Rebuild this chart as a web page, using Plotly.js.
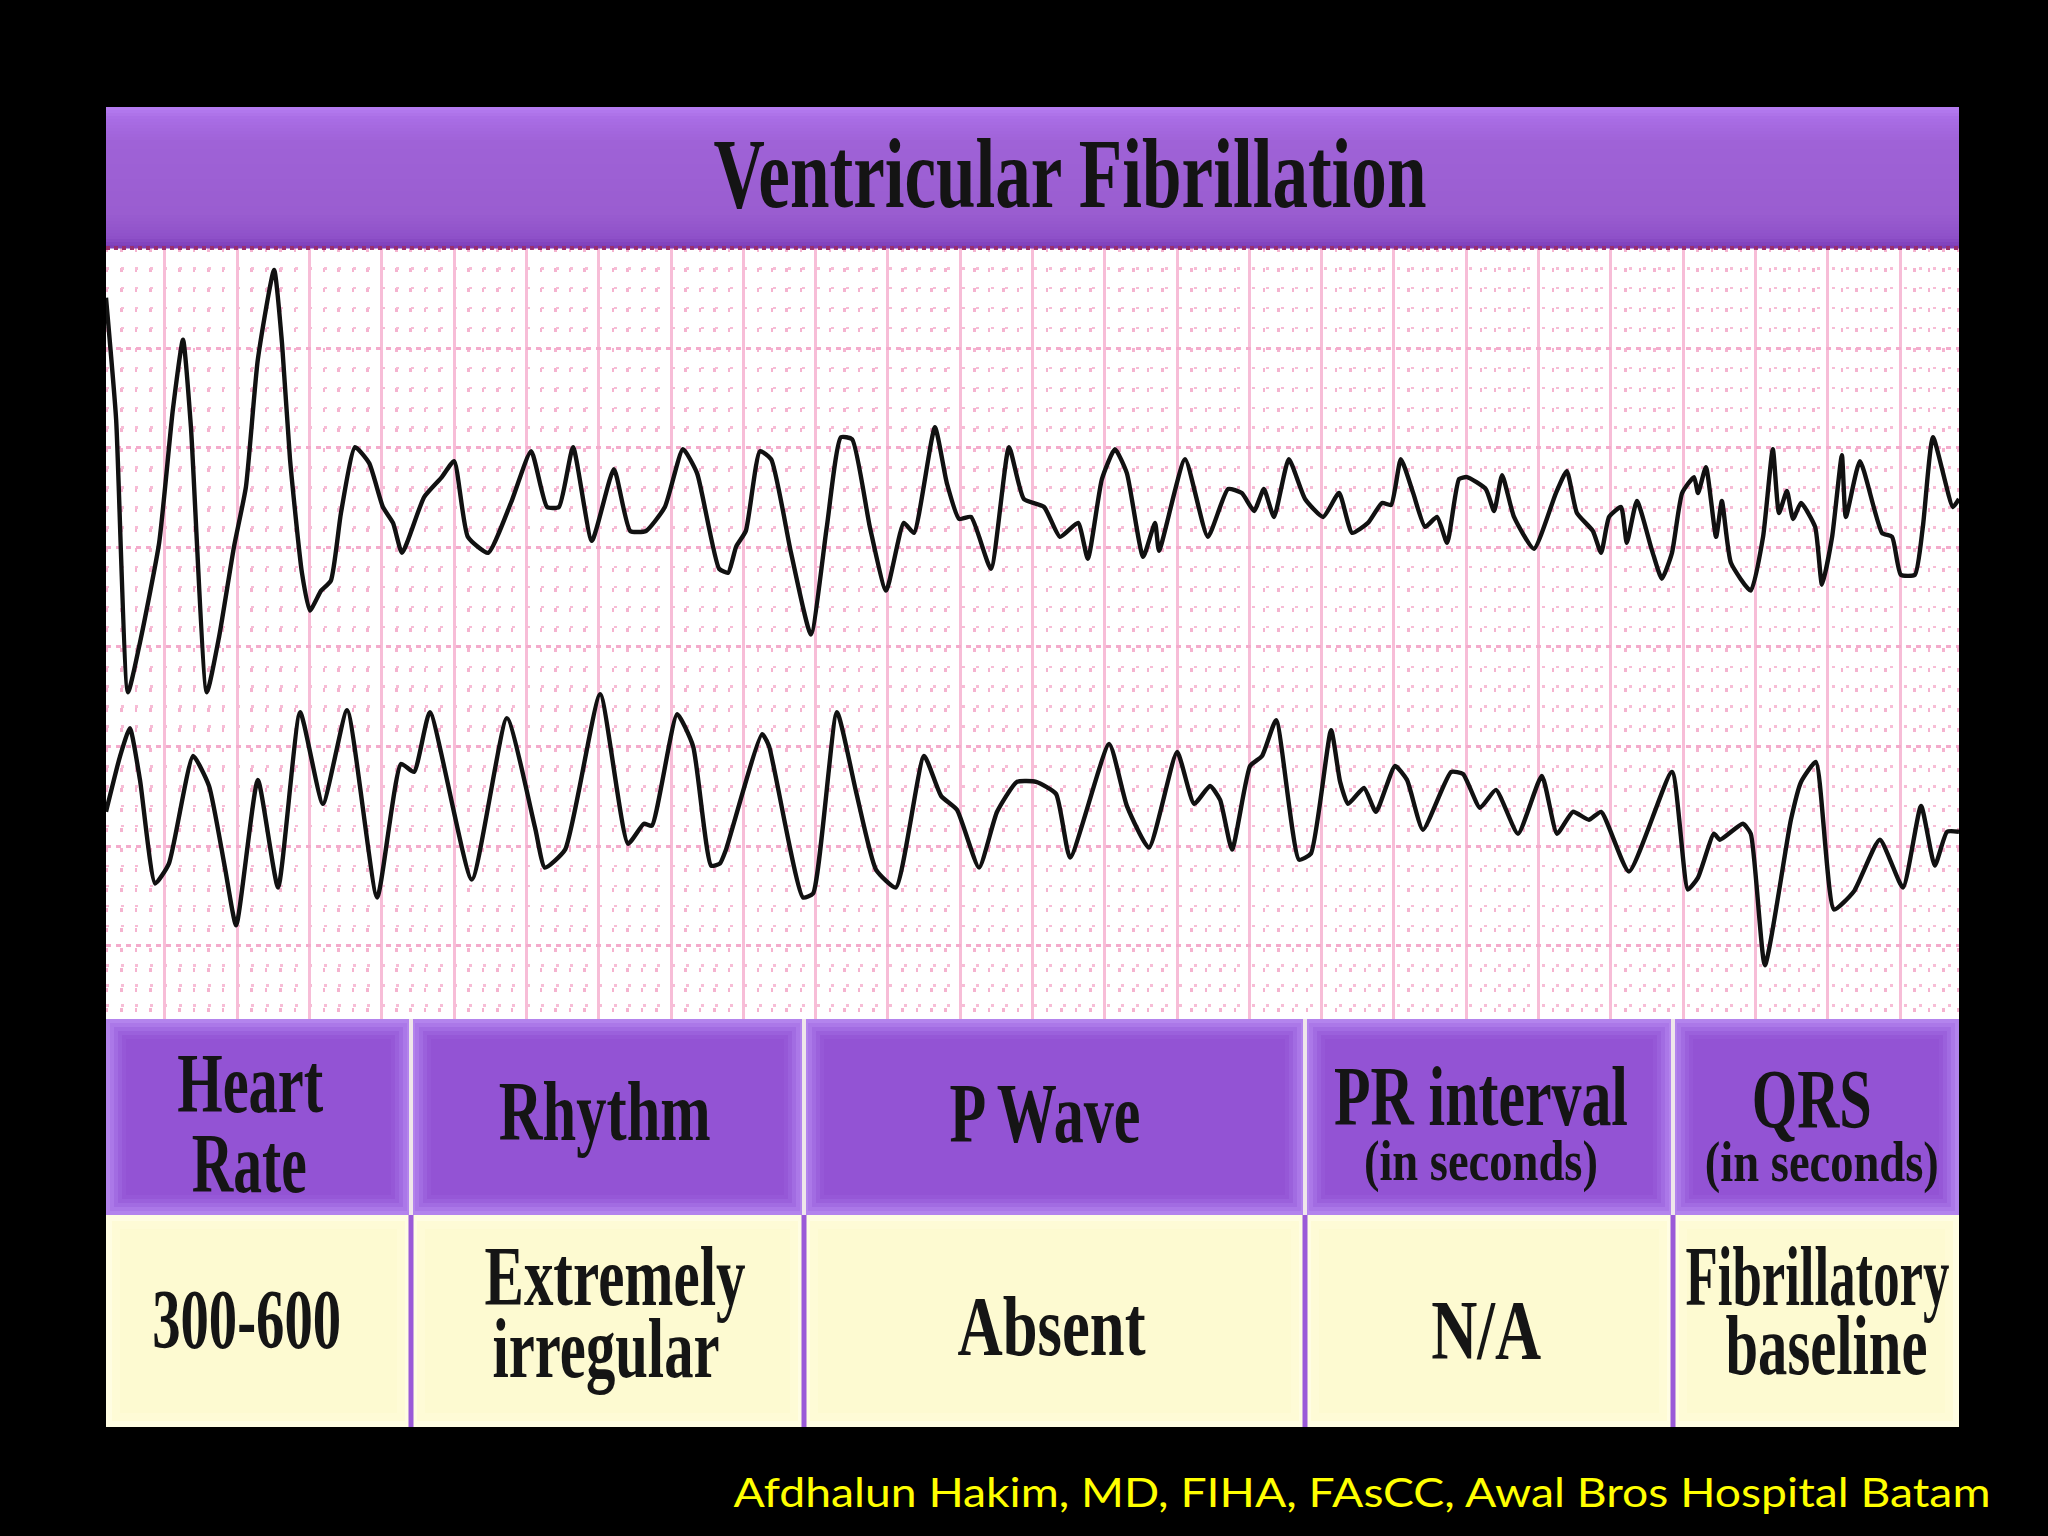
<!DOCTYPE html>
<html>
<head>
<meta charset="utf-8">
<script src="https://cdn.plot.ly/plotly-3.0.1.min.js"></script>
<style>
html,body{margin:0;padding:0;background:#000;}
#chart{width:2048px;height:1536px;}
</style>
</head>
<body>
<div id="chart"></div>
<script>
// ---------------- DATA ----------------
const chartTitle = 'Ventricular Fibrillation';

// Lead 1 (upper strip): time in seconds, amplitude in mV about its own baseline
const lead1Time = [0.000,0.028,0.061,0.094,0.147,0.185,0.213,0.235,0.279,0.313,
0.354,0.387,0.420,0.465,0.487,0.509,0.542,0.564,0.595,0.622,
0.650,0.689,0.728,0.766,0.794,0.819,0.880,0.929,0.963,1.001,
1.057,1.120,1.176,1.220,1.253,1.292,1.344,1.405,1.450,1.494,
1.546,1.596,1.635,1.696,1.721,1.743,1.770,1.809,1.840,1.895,
1.950,1.994,2.033,2.064,2.113,2.158,2.207,2.235,2.293,2.326,
2.360,2.393,2.448,2.498,2.539,2.595,2.639,2.689,2.716,2.755,
2.791,2.824,2.869,2.902,2.913,2.985,3.048,3.104,3.142,3.176,
3.203,3.231,3.272,3.317,3.367,3.411,3.447,3.491,3.530,3.555,
3.582,3.616,3.649,3.682,3.710,3.743,3.765,3.817,3.840,3.862,
3.895,3.950,4.011,4.041,4.069,4.113,4.136,4.158,4.191,4.207,
4.235,4.277,4.304,4.332,4.360,4.393,4.404,4.426,4.454,4.470,
4.495,4.550,4.584,4.611,4.628,4.650,4.667,4.689,4.728,4.747,
4.775,4.802,4.813,4.852,4.913,4.941,4.965,5.004,5.026,5.054,
5.109,5.126];
const lead1mV = [1.12,0.51,-0.86,-0.61,-0.11,0.56,0.91,0.47,-0.86,-0.58,
-0.13,0.17,0.81,1.26,0.89,0.31,-0.26,-0.45,-0.35,-0.30,
0.04,0.37,0.29,0.07,-0.01,-0.16,0.12,0.22,0.30,-0.08,
-0.16,0.09,0.35,0.07,0.07,0.37,-0.10,0.26,-0.05,-0.05,
0.07,0.36,0.24,-0.24,-0.26,-0.13,-0.05,0.35,0.31,-0.16,
-0.57,-0.03,0.42,0.41,-0.03,-0.35,-0.01,-0.06,0.47,0.19,
0.01,0.02,-0.24,0.37,0.11,0.07,-0.08,-0.01,-0.19,0.21,
0.36,0.24,-0.18,-0.01,-0.15,0.31,-0.08,0.16,0.14,0.05,
0.16,0.02,0.31,0.11,0.02,0.14,-0.06,-0.01,0.09,0.08,
0.31,0.14,-0.03,0.02,-0.11,0.21,0.22,0.16,0.05,0.23,
0.02,-0.14,0.14,0.25,0.04,-0.05,-0.16,0.02,0.07,-0.11,
0.10,-0.15,-0.29,-0.16,0.14,0.22,0.14,0.27,-0.08,0.10,
-0.21,-0.35,-0.08,0.36,0.04,0.15,0.01,0.09,-0.03,-0.32,
-0.08,0.33,0.02,0.30,-0.06,-0.08,-0.27,-0.27,-0.03,0.42,
0.07,0.11];

// Lead 2 (lower strip)
const lead2Time = [0.000,0.039,0.066,0.094,0.136,0.174,0.241,0.285,0.329,0.360,
0.420,0.476,0.537,0.600,0.667,0.750,0.816,0.852,0.896,1.012,
1.109,1.187,1.214,1.270,1.367,1.444,1.488,1.510,1.580,1.624,
1.674,1.698,1.715,1.815,1.834,1.928,1.956,2.022,2.075,2.130,
2.185,2.263,2.310,2.354,2.415,2.465,2.520,2.573,2.628,2.667,
2.775,2.824,2.885,2.963,3.010,3.054,3.082,3.115,3.165,3.198,
3.237,3.300,3.333,3.389,3.414,3.436,3.480,3.513,3.566,3.599,
3.643,3.721,3.754,3.801,3.845,3.906,3.972,4.014,4.058,4.102,
4.136,4.213,4.332,4.376,4.404,4.448,4.465,4.528,4.550,4.589,
4.661,4.689,4.730,4.780,4.835,4.907,4.971,5.021,5.059,5.093,
5.126];
const lead2mV = [0.04,0.32,0.46,0.20,-0.32,-0.22,0.32,0.17,-0.24,-0.53,
0.20,-0.34,0.54,0.08,0.55,-0.39,0.28,0.24,0.54,-0.30,
0.51,-0.04,-0.24,-0.15,0.63,-0.12,-0.02,-0.03,0.53,0.37,
-0.23,-0.22,-0.15,0.43,0.37,-0.39,-0.37,0.54,0.14,-0.25,
-0.34,0.32,0.12,0.05,-0.24,0.04,0.19,0.19,0.13,-0.19,
0.38,0.07,-0.14,0.34,0.08,0.17,0.10,-0.15,0.27,0.32,
0.50,-0.20,-0.17,0.45,0.19,0.08,0.16,0.04,0.27,0.20,
-0.05,0.24,0.23,0.06,0.15,-0.07,0.22,-0.07,0.04,0.00,
0.04,-0.26,0.24,-0.35,-0.29,-0.07,-0.10,-0.02,-0.07,-0.73,
0.00,0.19,0.29,-0.45,-0.36,-0.10,-0.34,0.07,-0.23,-0.06,
-0.06];

// Table
const headerLines = [['Heart','Rate'],['Rhythm'],['P Wave'],['PR interval','(in seconds)'],['QRS','(in seconds)']];
const valueLines  = [['300-600'],['Extremely','irregular'],['Absent'],['N/A'],['Fibrillatory','baseline']];
const creditText = 'Afdhalun Hakim, MD, FIHA, FAsCC, Awal Bros Hospital Batam';

// ---------------- LAYOUT (pixels) ----------------
const W = 2048, H = 1536;
const PL = 106, PR = 1959, PT = 248, PB = 1019;
const HEAD_TOP = 107, THEAD_B = 1215, TBODY_B = 1427;
const COLS = [106, 411, 804, 1305, 1673, 1959];
const X_RANGE = [0, 5.126], Y_RANGE = [0, 3.87];
const LEAD1_BASE = 2.5, LEAD2_BASE = 1.0;
const SERIF = 'Liberation Serif, Times New Roman, serif';

const px = v => (v - PL) / (PR - PL);
const py = v => (PB - v) / (PB - PT);

const shapes = [];
function rect(x0,y0,x1,y1,color){
  shapes.push({type:'rect', xref:'paper', yref:'paper', x0:px(x0), x1:px(x1), y0:py(y1), y1:py(y0),
    fillcolor:color, line:{width:0}, layer:'above'});
}
function vline(x,y0,y1,color,w){
  shapes.push({type:'line', xref:'paper', yref:'paper', x0:px(x), x1:px(x), y0:py(y0), y1:py(y1),
    line:{color:color, width:w}, layer:'above'});
}
function hex(c){return [1,3,5].map(i=>parseInt(c.substr(i,2),16));}
function mix(a,b,t){const A=hex(a),B=hex(b);return 'rgb('+A.map((v,i)=>Math.round(v+(B[i]-v)*t)).join(',')+')';}
function gradientBand(y0,y1,stops){
  const n = Math.ceil((y1-y0)/3);
  for(let k=0;k<n;k++){
    const ya = y0 + (y1-y0)*k/n, yb = y0 + (y1-y0)*(k+1)/n;
    const f = (k+0.5)/n;
    let j=0; while(j<stops.length-2 && f>stops[j+1][0]) j++;
    const t=(f-stops[j][0])/(stops[j+1][0]-stops[j][0]);
    rect(PL, ya, PR, yb+0.6, mix(stops[j][1], stops[j+1][1], Math.max(0,Math.min(1,t))));
  }
}
// title band
gradientBand(HEAD_TOP, PT, [[0,'#b77ef2'],[0.08,'#a96de5'],[0.25,'#9f62d7'],[0.75,'#9a5dd0'],[0.92,'#8f51c9'],[1,'#7a3cb6']]);
shapes.push({type:'line', xref:'paper', yref:'paper', x0:0, x1:1, y0:1, y1:1,
  line:{color:'#9a2f6e', width:4, dash:'4px,4px'}, layer:'above'});

// table header row cells: soft lighter rim fading to a deeper purple
const rimSteps = ['#b384ed','#ab78e8','#a26ce2','#9b61dc','#9658d7','#9353d4'];
for(let c=0;c<5;c++){
  const a=COLS[c], b=COLS[c+1];
  rimSteps.forEach((col,k)=>{ const d=k*4; rect(a+d, PB+d, b-d, THEAD_B-d, col); });
}
// table body row cells
for(let c=0;c<5;c++){
  const a=COLS[c], b=COLS[c+1];
  rect(a, THEAD_B, b, TBODY_B, '#fffde2');
  rect(a+6, THEAD_B+6, b-6, TBODY_B-6, '#fefbd6');
  rect(a+14, THEAD_B+14, b-14, TBODY_B-14, '#fdfad1');
}
for(let c=1;c<5;c++){
  vline(COLS[c], PB, THEAD_B, '#efe6ea', 4);
  vline(COLS[c], THEAD_B, TBODY_B, '#9a5ad8', 5);
}

// ---------------- TEXT ----------------
const annotations = [];
const fit = [];
function addCell(lines, x, y, spec){
  let txt = lines[0];
  if(lines.length>1){
    const s2 = spec.size2 || 85;
    txt += '<br>' + (s2 !== 85 ? '<span style="font-size:'+s2+'px">'+lines[1]+'</span>' : lines[1]);
  }
  annotations.push({text:txt, xref:'paper', yref:'paper', x:px(x), y:py(y),
    xanchor: spec.anchor || 'center', yanchor:'middle', showarrow:false, align:'center',
    borderpad:0,
    font:{family: spec.family || SERIF, size: spec.size || 85,
          color: spec.color || '#151515', weight: spec.weight || 700}});
  fit.push(spec);
}
const headSpec = [
  {x:250, y:1123, w:[146,115], gap:80, dx:[0,-1]},
  {x:605, y:1111, w:[212]},
  {x:1045, y:1113, w:[191]},
  {x:1481, y:1121, w:[294,234], gap:55, size2:58, dx:[0,0]},
  {x:1816, y:1123, w:[120,234], gap:53, size2:58, dx:[-4,6]}
];
const valSpec = [
  {x:246, y:1319, w:[189]},
  {x:610, y:1312, w:[261,227], gap:72, dx:[5,-4]},
  {x:1051, y:1326, w:[188]},
  {x:1486, y:1330, w:[110]},
  {x:1820, y:1310, w:[264,202], gap:69, dx:[-3,6]}
];
headerLines.forEach((lines,c)=>addCell(lines, headSpec[c].x, headSpec[c].y, headSpec[c]));
valueLines.forEach((lines,c)=>addCell(lines, valSpec[c].x, valSpec[c].y, valSpec[c]));
addCell([creditText], 1992, 1491, {w:[1257], anchor:'right', family:'Lato, Open Sans, sans-serif', size:41, color:'#ffff00', weight:400});

// ---------------- TRACES ----------------
const traces = [
  {type:'scatter', mode:'lines', name:'Lead 1', x:lead1Time, y:lead1mV.map(v=>v+LEAD1_BASE),
   line:{color:'#111111', width:4.4, shape:'spline', smoothing:0.5}, hoverinfo:'skip', showlegend:false},
  {type:'scatter', mode:'lines', name:'Lead 2', x:lead2Time, y:lead2mV.map(v=>v+LEAD2_BASE),
   line:{color:'#111111', width:4.4, shape:'spline', smoothing:0.5}, hoverinfo:'skip', showlegend:false}
];

const layout = {
  width:W, height:H,
  paper_bgcolor:'#000000', plot_bgcolor:'#ffffff',
  margin:{l:PL, r:W-PR, t:PT, b:H-PB, pad:0},
  showlegend:false,
  title:{text:chartTitle, xref:'container', yref:'container', x:1070/W, y:1-172/H,
         xanchor:'center', yanchor:'middle',
         font:{family:SERIF, size:100, color:'#141414', weight:700}},
  xaxis:{range:X_RANGE, showticklabels:false, ticks:'', zeroline:false, showline:false,
         tick0:0.163, dtick:0.2, showgrid:true, gridcolor:'#f7bdd7', gridwidth:3,
         minor:{tick0:0.163, dtick:0.04, showgrid:true, gridcolor:'#f5b3cf', gridwidth:2.5, griddash:'4px,16px'},
         fixedrange:true},
  yaxis:{range:Y_RANGE, showticklabels:false, ticks:'', zeroline:false, showline:false,
         tick0:0.368, dtick:0.5, showgrid:true, gridcolor:'#f4abcc', gridwidth:3, griddash:'5px,5px',
         minor:{tick0:0.368, dtick:0.1, showgrid:true, gridcolor:'#f7bdd6', gridwidth:2.5, griddash:'3px,11.5px'},
         fixedrange:true},
  shapes:shapes,
  annotations:annotations
};

function scaleAbout(el, s, anchor, extra){
  const bb = el.getBBox();
  const ax = anchor==='right' ? bb.x + bb.width : bb.x + bb.width/2;
  el.setAttribute('transform',(extra||'')+' translate('+ax+',0) scale('+s+',1) translate('+(-ax)+',0)');
}
function fitText(t, spec){
  if(!t) return;
  const lines = t.querySelectorAll('tspan.line');
  if(lines.length < 2){
    const bb = t.getBBox();
    if(bb.width) scaleAbout(t, spec.w[0]/bb.width, spec.anchor);
    return;
  }
  const before = t.getBBox();
  const c0 = before.y + before.height/2;
  lines[1].setAttribute('dy', spec.gap + 'px');
  const natural = Array.from(lines).map(l=>l.getComputedTextLength());
  lines.forEach((ln,i)=>{
    ln.setAttribute('textLength', spec.w[i]);
    ln.setAttribute('lengthAdjust','spacingAndGlyphs');
    if(spec.dx && spec.dx[i]) ln.setAttribute('dx', spec.dx[i]);
  });
  let after = t.getBBox();
  const maxW = Math.max.apply(null, spec.w);
  if(after.width > maxW*1.12){
    lines.forEach(ln=>{ln.removeAttribute('textLength'); ln.removeAttribute('lengthAdjust');});
    after = t.getBBox();
    const s = maxW / Math.max.apply(null, natural);
    const c1 = after.y + after.height/2;
    scaleAbout(t, s, 'center', 'translate(0,'+(c0-c1)+')');
    return;
  }
  const c1 = after.y + after.height/2;
  t.setAttribute('transform','translate(0,'+(c0-c1)+')');
}
// keep the (invisible) annotation box snug around the condensed text
function shrinkBg(g, t){
  const r = g.querySelector('rect.bg');
  if(!r || !t) return;
  const tb = t.getBoundingClientRect(), rb = r.getBoundingClientRect();
  r.setAttribute('x', (parseFloat(r.getAttribute('x'))||0) + (tb.left - rb.left));
  r.setAttribute('y', (parseFloat(r.getAttribute('y'))||0) + (tb.top - rb.top));
  r.setAttribute('width', tb.width);
  r.setAttribute('height', tb.height);
}

Plotly.newPlot('chart', traces, layout, {staticPlot:true, displayModeBar:false}).then(gd=>{
  gd.querySelectorAll('g.annotation').forEach(g=>{
    const i = +g.getAttribute('data-index');
    const t = g.querySelector('text.annotation-text');
    if(fit[i]) { fitText(t, fit[i]); shrinkBg(g, t); }
  });
  const tt = gd.querySelector('text.gtitle');
  if(tt){ const bb = tt.getBBox(); if(bb.width) scaleAbout(tt, 713/bb.width, 'center'); }
});
</script>
</body>
</html>
